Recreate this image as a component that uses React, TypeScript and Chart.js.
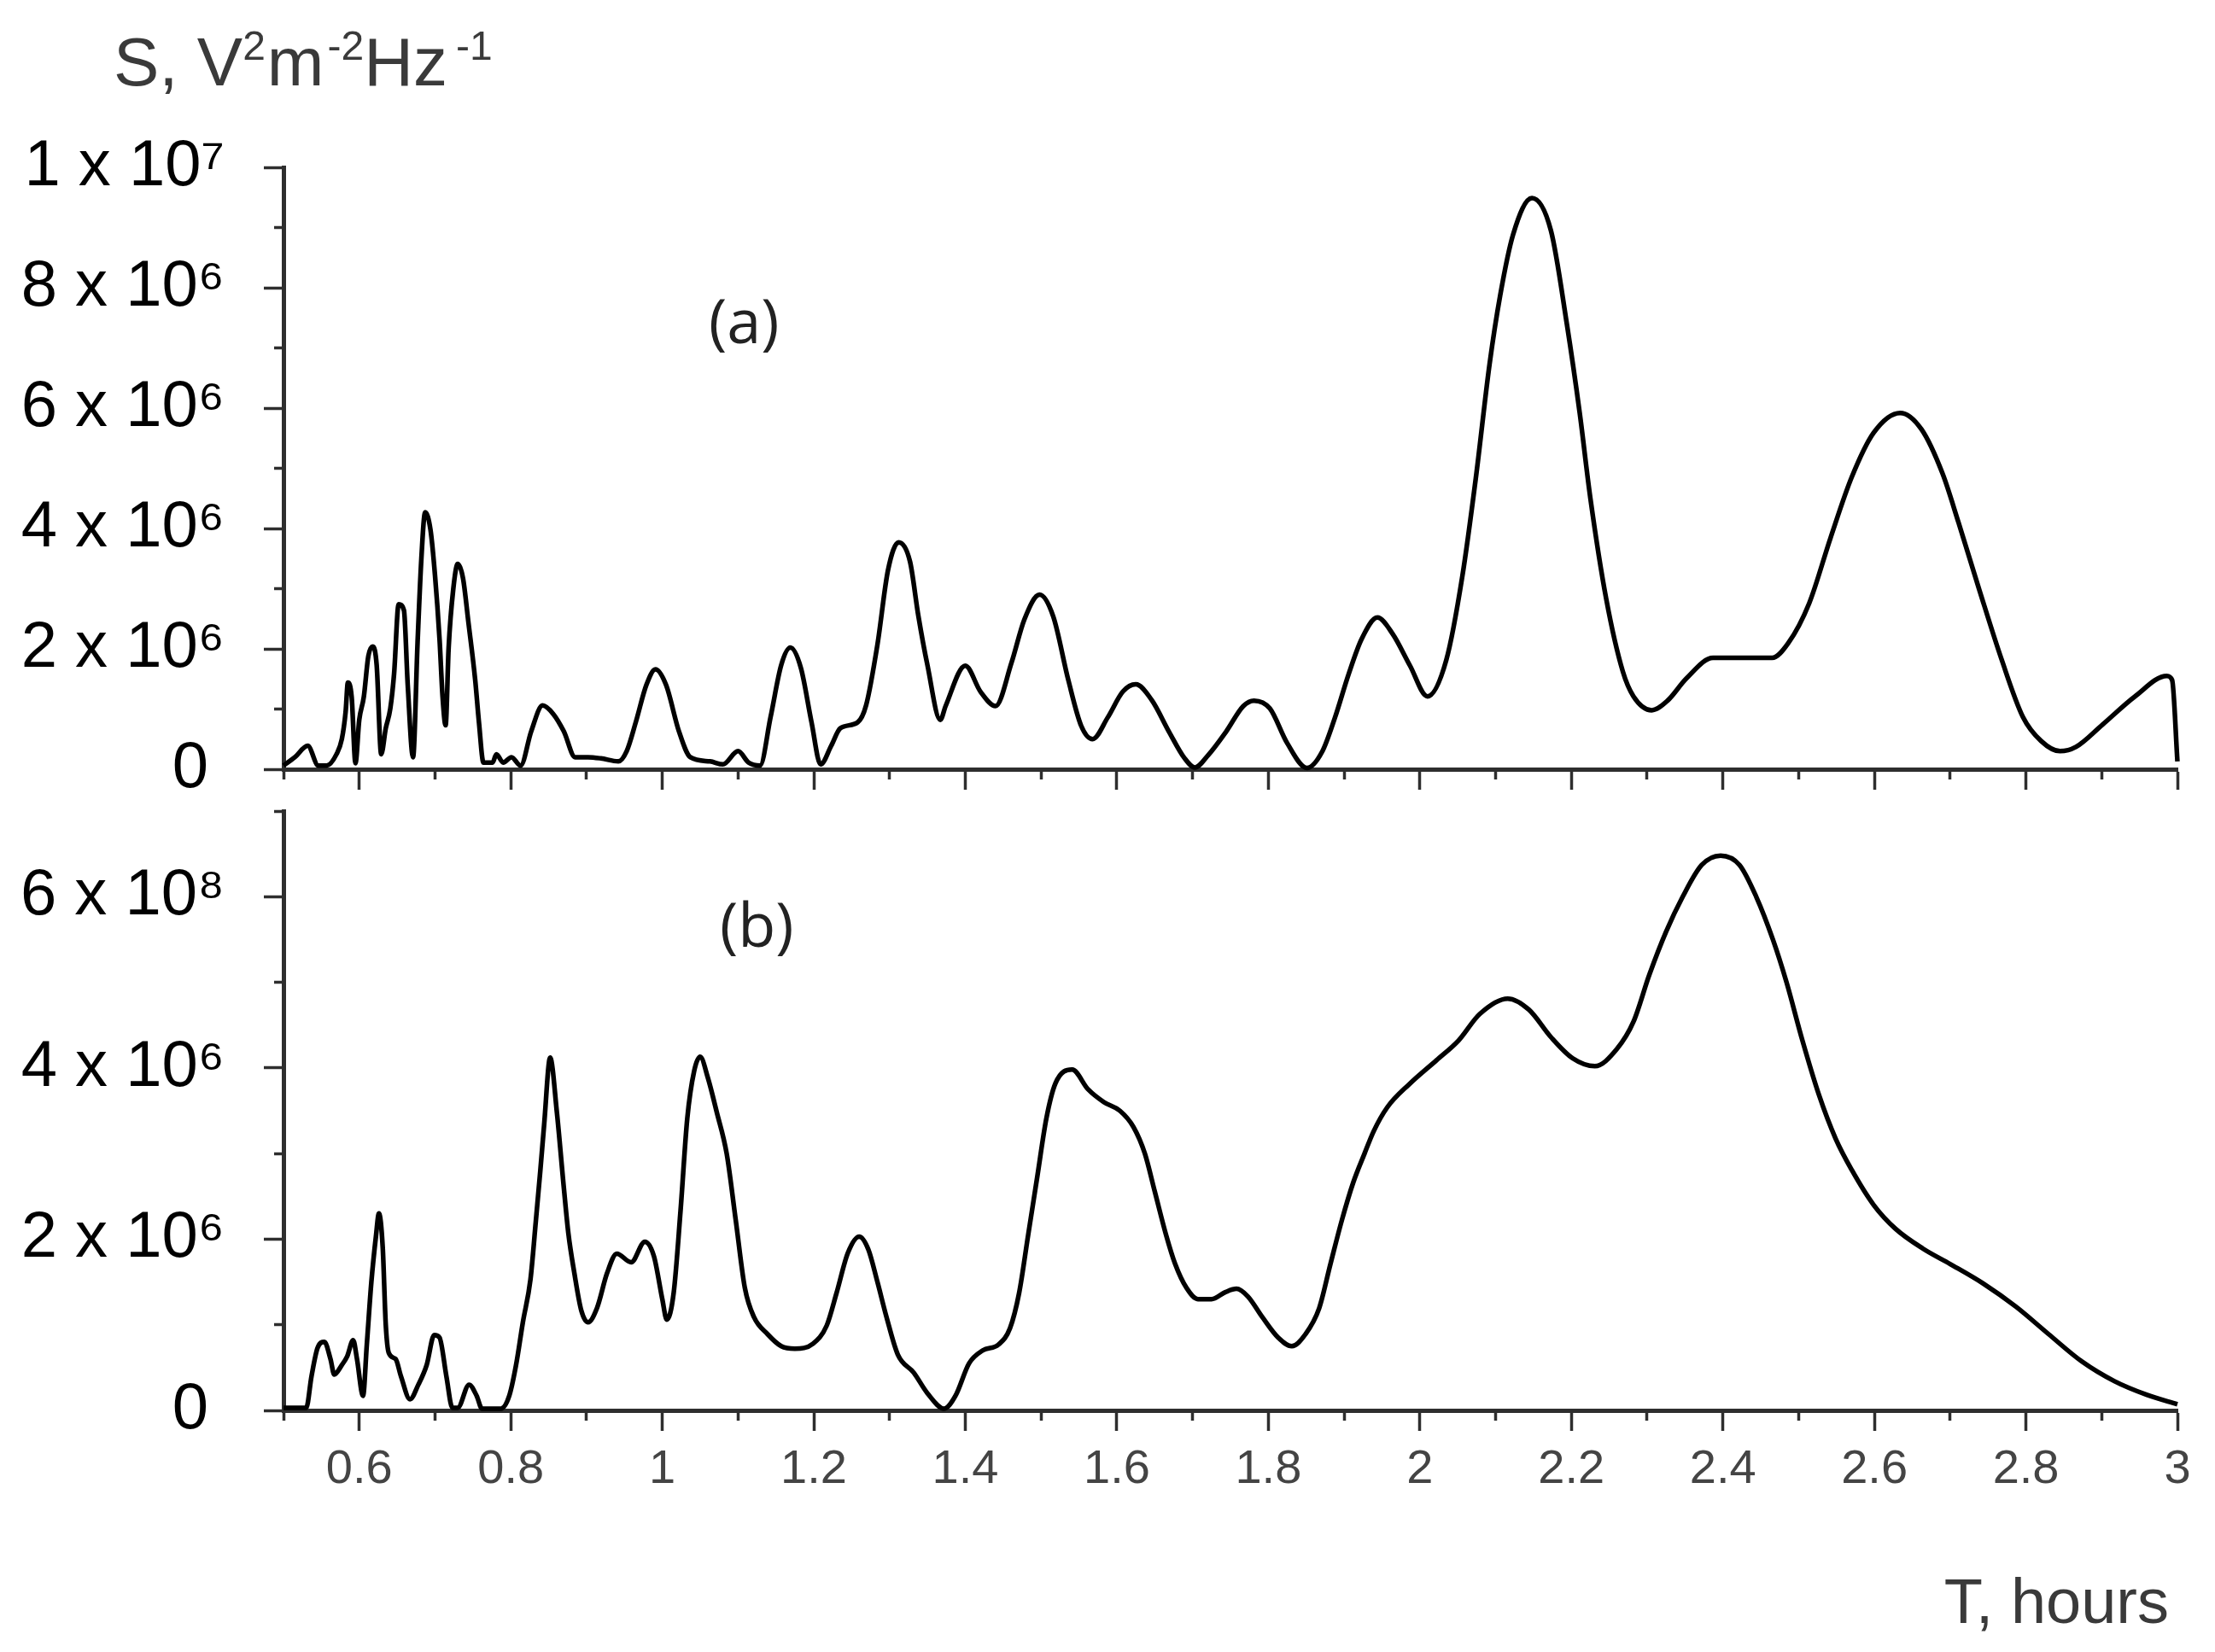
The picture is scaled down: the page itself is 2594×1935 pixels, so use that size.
import React, { useEffect, useRef } from "react";
import { Chart, registerables } from "chart.js";

Chart.register(...registerables);

// ---------------- data ----------------
// Panel (a): period T (hours) and spectral density S (units of 1e6 V^2 m^-2 Hz^-1)
const periodA = [
  0.5, 0.515, 0.532, 0.546, 0.557, 0.57, 0.577, 0.582, 0.585, 0.59, 0.595, 0.6, 0.606, 0.612, 0.618, 0.623,
  0.629, 0.635, 0.641, 0.646, 0.652, 0.659, 0.664, 0.671, 0.677, 0.682, 0.687, 0.694, 0.7, 0.706, 0.71, 0.714,
  0.718, 0.724, 0.73, 0.737, 0.744, 0.753, 0.758, 0.764, 0.776, 0.781, 0.79, 0.801, 0.813, 0.827, 0.842, 0.856,
  0.87, 0.885, 0.902, 0.919, 0.942, 0.953, 0.965, 0.979, 0.991, 1.005, 1.022, 1.037, 1.063, 1.08, 1.1, 1.114,
  1.129, 1.143, 1.157, 1.169, 1.183, 1.197, 1.209, 1.223, 1.235, 1.258, 1.269, 1.284, 1.298, 1.312, 1.327, 1.338,
  1.35, 1.367, 1.374, 1.4, 1.42, 1.44, 1.461, 1.478, 1.498, 1.516, 1.536, 1.553, 1.568, 1.588, 1.608, 1.625,
  1.646, 1.669, 1.689, 1.703, 1.721, 1.744, 1.767, 1.781, 1.802, 1.825, 1.851, 1.871, 1.888, 1.906, 1.923, 1.944,
  1.964, 1.987, 2.01, 2.035, 2.056, 2.074, 2.092, 2.106, 2.123, 2.148, 2.173, 2.194, 2.211, 2.225, 2.246, 2.268,
  2.282, 2.306, 2.327, 2.352, 2.387, 2.465, 2.486, 2.514, 2.542, 2.57, 2.599, 2.634, 2.662, 2.69, 2.711, 2.739,
  2.768, 2.796, 2.82, 2.845, 2.866, 2.901, 2.944, 2.986, 2.993, 3.0,
];
const spectrumA = [
  0.06, 0.2, 0.39, 0.06, 0.06, 0.25, 0.5, 0.95, 1.44, 1.2, 0.1, 0.82, 1.2, 1.88, 2.04, 1.73,
  0.25, 0.68, 1.01, 1.59, 2.74, 2.64, 1.4, 0.2, 2.11, 3.5, 4.27, 3.98, 3.22, 2.16, 1.2, 0.73,
  2.02, 2.98, 3.41, 3.17, 2.45, 1.49, 0.78, 0.11, 0.11, 0.25, 0.11, 0.2, 0.06, 0.63, 1.06, 0.92,
  0.63, 0.2, 0.2, 0.18, 0.13, 0.3, 0.78, 1.4, 1.66, 1.4, 0.63, 0.2, 0.13, 0.08, 0.3, 0.11,
  0.06, 0.87, 1.73, 2.02, 1.68, 0.78, 0.08, 0.39, 0.68, 0.78, 1.06, 2.07, 3.31, 3.77, 3.45, 2.55,
  1.73, 0.82, 1.05, 1.72, 1.29, 1.05, 1.77, 2.49, 2.9, 2.54, 1.48, 0.72, 0.5, 0.86, 1.29, 1.41,
  1.15, 0.62, 0.19, 0.03, 0.24, 0.62, 1.05, 1.14, 1.01, 0.43, 0.02, 0.29, 0.86, 1.58, 2.16, 2.52,
  2.25, 1.72, 1.21, 1.82, 3.2, 4.85, 6.73, 7.87, 8.88, 9.49, 8.95, 7.4, 5.92, 4.51, 2.83, 1.62,
  1.21, 0.98, 1.14, 1.51, 1.85, 1.85, 2.09, 2.76, 3.84, 4.85, 5.59, 5.92, 5.65, 4.91, 4.1, 2.96,
  1.82, 0.87, 0.47, 0.3, 0.37, 0.74, 1.21, 1.55, 1.48, 0.13,
];

// Panel (b)
const periodB = [
  0.5, 0.53, 0.537, 0.545, 0.554, 0.562, 0.567, 0.577, 0.584, 0.592, 0.597, 0.605, 0.61, 0.616, 0.622, 0.626,
  0.631, 0.635, 0.639, 0.648, 0.655, 0.667, 0.678, 0.689, 0.699, 0.706, 0.715, 0.723, 0.73, 0.745, 0.755, 0.762,
  0.787, 0.798, 0.807, 0.816, 0.826, 0.833, 0.839, 0.844, 0.852, 0.861, 0.869, 0.876, 0.884, 0.893, 0.902, 0.914,
  0.927, 0.94, 0.959, 0.977, 0.989, 1.0, 1.006, 1.015, 1.024, 1.033, 1.042, 1.05, 1.06, 1.072, 1.085, 1.097,
  1.109, 1.121, 1.139, 1.157, 1.175, 1.199, 1.217, 1.23, 1.245, 1.26, 1.272, 1.284, 1.296, 1.311, 1.332, 1.35,
  1.372, 1.387, 1.405, 1.423, 1.444, 1.459, 1.471, 1.483, 1.495, 1.507, 1.519, 1.541, 1.562, 1.583, 1.604, 1.622,
  1.637, 1.65, 1.665, 1.677, 1.692, 1.707, 1.725, 1.743, 1.758, 1.773, 1.792, 1.813, 1.831, 1.849, 1.867, 1.882,
  1.897, 1.912, 1.927, 1.939, 1.957, 1.986, 2.022, 2.051, 2.079, 2.116, 2.144, 2.173, 2.202, 2.231, 2.26, 2.282,
  2.303, 2.325, 2.347, 2.372, 2.397, 2.422, 2.444, 2.466, 2.484, 2.505, 2.527, 2.549, 2.57, 2.599, 2.628, 2.664,
  2.7, 2.744, 2.787, 2.83, 2.874, 2.917, 2.96, 3.0,
];
const spectrumB = [
  0.03, 0.03, 0.4, 0.73, 0.8, 0.6, 0.42, 0.53, 0.63, 0.82, 0.6, 0.17, 0.77, 1.5, 2.03, 2.3,
  1.9, 1.0, 0.67, 0.6, 0.4, 0.13, 0.3, 0.53, 0.88, 0.85, 0.4, 0.03, 0.03, 0.3, 0.17, 0.02,
  0.02, 0.17, 0.53, 1.03, 1.53, 2.2, 2.8, 3.33, 4.12, 3.47, 2.7, 2.07, 1.6, 1.17, 1.03, 1.2,
  1.6, 1.83, 1.73, 1.97, 1.8, 1.3, 1.06, 1.37, 2.32, 3.41, 3.96, 4.13, 3.89, 3.48, 3.0, 2.22,
  1.43, 1.09, 0.89, 0.75, 0.72, 0.78, 0.99, 1.37, 1.84, 2.03, 1.88, 1.5, 1.09, 0.65, 0.44, 0.2,
  0.02, 0.17, 0.55, 0.7, 0.77, 0.96, 1.37, 2.05, 2.73, 3.41, 3.82, 3.98, 3.75, 3.6, 3.5, 3.31,
  3.0, 2.56, 2.05, 1.71, 1.43, 1.3, 1.3, 1.38, 1.42, 1.33, 1.09, 0.85, 0.75, 0.89, 1.19, 1.71,
  2.22, 2.66, 3.0, 3.26, 3.54, 3.81, 4.09, 4.32, 4.63, 4.81, 4.68, 4.36, 4.11, 4.02, 4.22, 4.54,
  5.09, 5.59, 6.0, 6.37, 6.48, 6.37, 6.0, 5.5, 5.0, 4.32, 3.68, 3.17, 2.81, 2.4, 2.12, 1.89,
  1.71, 1.48, 1.21, 0.89, 0.57, 0.34, 0.18, 0.07,
];

// ticks
const xMajorTicks = [0.6, 0.8, 1.0, 1.2, 1.4, 1.6, 1.8, 2.0, 2.2, 2.4, 2.6, 2.8, 3.0];
const xMinorTicks = [0.5, 0.7, 0.9, 1.1, 1.3, 1.5, 1.7, 1.9, 2.1, 2.3, 2.5, 2.7, 2.9];
const xTickLabels = ["0.6", "0.8", "1", "1.2", "1.4", "1.6", "1.8", "2", "2.2", "2.4", "2.6", "2.8", "3"];

const yMaxA = 10;
const yMajorTicksA = [0, 2, 4, 6, 8, 10];
const yMinorTicksA = [1, 3, 5, 7, 9];
const yTickLabelsA = ["0\u2005", "2 x 10\u2076", "4 x 10\u2076", "6 x 10\u2076", "8 x 10\u2076", "1 x 10\u2077"];

const yMaxB = 7;
const yMajorTicksB = [0, 2, 4, 6];
const yMinorTicksB = [1, 3, 5, 7];
const yTickLabelsB = ["0\u2005", "2 x 10\u2076", "4 x 10\u2076", "6 x 10\u2078"];

const panelLabelA = "(a)";
const panelLabelB = "(b)";
const xTitle = "T, hours";

// ---------------- styling ----------------
const W = 2594;
const TOP_H = 940;
const BOT_H = 1935 - TOP_H;
const AXIS = "#2e2e2e";
const SANS = "'Liberation Sans', Arial, sans-serif";

function makeScales(yMax: number, yMajor: number[], yMinor: number[], yLabels: string[], showX: boolean, xHeight: number) {
  const zeroPad = (s: any) => {
    s.paddingTop = 0;
    s.paddingBottom = 0;
    s.paddingLeft = 0;
    s.paddingRight = 0;
  };
  return {
    x: {
      type: "linear",
      position: "bottom",
      min: 0.5,
      max: 3,
      weight: 1,
      afterBuildTicks: (s: any) => {
        s.ticks = xMajorTicks.map((v) => ({ value: v }));
      },
      afterFit: (s: any) => {
        s.height = xHeight;
        zeroPad(s);
      },
      border: { display: true, color: AXIS, width: 5 },
      grid: { display: true, drawOnChartArea: false, drawTicks: true, tickLength: 24, tickWidth: 3.5, tickColor: AXIS },
      ticks: {
        display: showX,
        autoSkip: false,
        maxRotation: 0,
        minRotation: 0,
        padding: 12,
        color: "#444444",
        font: { family: SANS, size: 56 },
        callback: (_v: any, i: number) => xTickLabels[i],
      },
    },
    xMinor: {
      type: "linear",
      position: "bottom",
      min: 0.5,
      max: 3,
      weight: 0,
      afterBuildTicks: (s: any) => {
        s.ticks = xMinorTicks.map((v) => ({ value: v }));
      },
      afterFit: (s: any) => {
        s.height = 0;
        zeroPad(s);
      },
      border: { display: false },
      grid: { display: true, drawOnChartArea: false, drawTicks: true, tickLength: 12, tickWidth: 3.5, tickColor: AXIS },
      ticks: { display: false },
    },
    y: {
      type: "linear",
      position: "left",
      min: 0,
      max: yMax,
      weight: 1,
      afterBuildTicks: (s: any) => {
        s.ticks = yMajor.map((v) => ({ value: v }));
      },
      afterFit: (s: any) => {
        s.width = 332;
        zeroPad(s);
      },
      border: { display: true, color: AXIS, width: 5 },
      grid: { display: true, drawOnChartArea: false, drawTicks: true, tickLength: 23, tickWidth: 3.5, tickColor: AXIS },
      ticks: {
        display: true,
        autoSkip: false,
        padding: 46,
        color: "#000000",
        font: { family: SANS, size: 76 },
        callback: (_v: any, i: number) => yLabels[i],
      },
    },
    yMinor: {
      type: "linear",
      position: "left",
      min: 0,
      max: yMax,
      weight: 0,
      afterBuildTicks: (s: any) => {
        s.ticks = yMinor.map((v) => ({ value: v }));
      },
      afterFit: (s: any) => {
        s.width = 0;
        zeroPad(s);
      },
      border: { display: false },
      grid: { display: true, drawOnChartArea: false, drawTicks: true, tickLength: 11, tickWidth: 3.5, tickColor: AXIS },
      ticks: { display: false },
    },
  };
}

function lineDataset(xs: number[], ys: number[]) {
  return {
    data: xs.map((x, i) => ({ x, y: ys[i] })),
    borderColor: "#000000",
    borderWidth: 5.5,
    pointRadius: 0,
    fill: false,
    cubicInterpolationMode: "monotone",
    xAxisID: "x",
    yAxisID: "y",
    clip: false,
  };
}

// draws a run of text pieces; superscript pieces are smaller and raised
function drawRich(ctx: CanvasRenderingContext2D, x: number, y: number, parts: { t: string; sup?: boolean; gap?: number }[], size: number, color: string) {
  let cx = x;
  ctx.save();
  ctx.fillStyle = color;
  ctx.textBaseline = "alphabetic";
  ctx.textAlign = "left";
  for (const p of parts) {
    cx += p.gap || 0;
    const fs = p.sup ? Math.round(size * 0.6) : size;
    ctx.font = `${fs}px ${SANS}`;
    const dy = p.sup ? -size * 0.37 : 0;
    ctx.fillText(p.t, cx, y + dy);
    cx += ctx.measureText(p.t).width;
  }
  ctx.restore();
}

const textPluginTop = {
  id: "textTop",
  afterDraw(chart: any) {
    const ctx = chart.ctx as CanvasRenderingContext2D;
    drawRich(
      ctx,
      133,
      100,
      [
        { t: "S, V" },
        { t: "2", sup: true },
        { t: "m", gap: 2 },
        { t: "-2", sup: true, gap: 4 },
        { t: "Hz" },
        { t: "-1", sup: true, gap: 10 },
      ],
      80,
      "#3a3a3a"
    );
    ctx.save();
    ctx.fillStyle = "#222222";
    ctx.font = "72px 'Open Sans', sans-serif";
    ctx.textBaseline = "alphabetic";
    ctx.textAlign = "left";
    ctx.fillText(panelLabelA, 830, 402);
    ctx.restore();
  },
};

const textPluginBottom = {
  id: "textBottom",
  afterDraw(chart: any) {
    const ctx = chart.ctx as CanvasRenderingContext2D;
    ctx.save();
    ctx.fillStyle = "#222222";
    ctx.font = "72px 'Open Sans', sans-serif";
    ctx.textBaseline = "alphabetic";
    ctx.textAlign = "left";
    ctx.fillText(panelLabelB, 843, 169);
    ctx.fillStyle = "#3a3a3a";
    ctx.font = `74px ${SANS}`;
    ctx.textAlign = "right";
    ctx.fillText(xTitle, 2540, 961);
    ctx.restore();
  },
};

function baseOptions(scales: any, padding: any) {
  return {
    responsive: false,
    animation: false,
    devicePixelRatio: 1,
    layout: { padding },
    plugins: { legend: { display: false }, tooltip: { enabled: false }, title: { display: false } },
    scales,
  };
}

export default function App() {
  const topRef = useRef<HTMLCanvasElement>(null);
  const botRef = useRef<HTMLCanvasElement>(null);

  useEffect(() => {
    const top = new Chart(topRef.current as HTMLCanvasElement, {
      type: "line",
      data: { datasets: [lineDataset(periodA, spectrumA) as any] },
      options: baseOptions(makeScales(yMaxA, yMajorTicksA, yMinorTicksA, yTickLabelsA, false, 39), {
        left: 0,
        right: 44,
        top: 196,
        bottom: 0,
      }) as any,
      plugins: [textPluginTop],
    });
    const bot = new Chart(botRef.current as HTMLCanvasElement, {
      type: "line",
      data: { datasets: [lineDataset(periodB, spectrumB) as any] },
      options: baseOptions(makeScales(yMaxB, yMajorTicksB, yMinorTicksB, yTickLabelsB, true, 283), {
        left: 0,
        right: 44,
        top: 10,
        bottom: 0,
      }) as any,
      plugins: [textPluginBottom],
    });
    return () => {
      top.destroy();
      bot.destroy();
    };
  }, []);

  return (
    <div style={{ position: "absolute", left: 0, top: 0, width: W, height: 1935, background: "#ffffff" }}>
      <canvas
        ref={topRef}
        width={W}
        height={TOP_H}
        style={{ position: "absolute", left: 0, top: 0, width: W, height: TOP_H, display: "block" }}
      />
      <canvas
        ref={botRef}
        width={W}
        height={BOT_H}
        style={{ position: "absolute", left: 0, top: TOP_H, width: W, height: BOT_H, display: "block" }}
      />
    </div>
  );
}
